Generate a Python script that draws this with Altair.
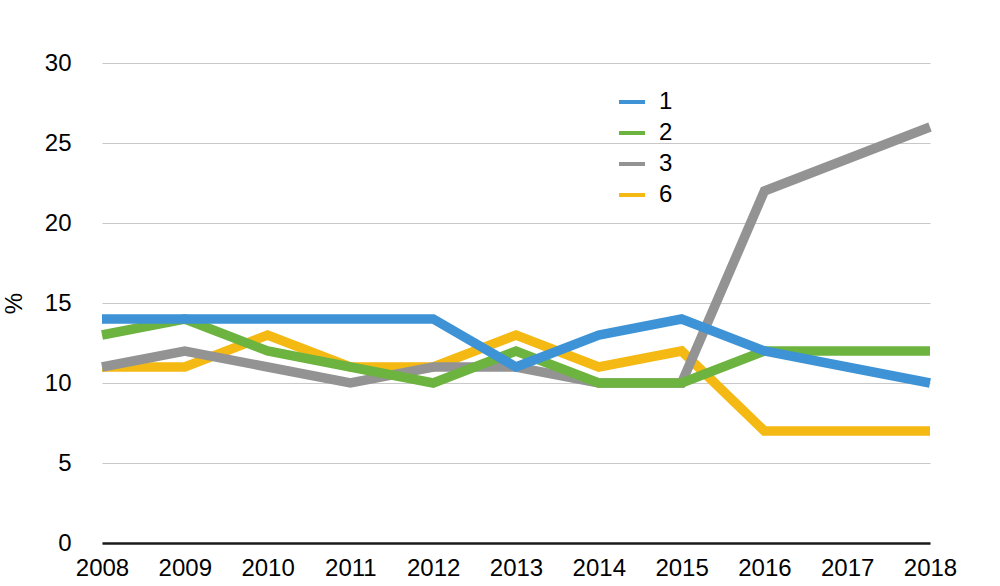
import altair as alt
import pandas as pd

years = list(range(2008, 2019))
s1 = [14, 14, 14, 14, 14, 11, 13, 14, 12, 11, 10]
s2 = [13, 14, 12, 11, 10, 12, 10, 10, 12, 12, 12]
s3 = [11, 12, 11, 10, 11, 11, 10, 10, 22, 24, 26]
s6 = [11, 11, 13, 11, 11, 13, 11, 12, 7, 7, 7]

series_names = ["1", "2", "3", "6"]
series_vals = [s1, s2, s3, s6]
colors = ["#3D93D6", "#6DB33F", "#939393", "#F5B914"]

rows = []
for name, vals in zip(series_names, series_vals):
    for y, v in zip(years, vals):
        rows.append({"year": y, "value": v, "series": name})
df = pd.DataFrame(rows)

FONT = "Liberation Sans"

color = alt.Color(
    "series:N",
    scale=alt.Scale(domain=series_names, range=colors),
    legend=alt.Legend(
        title=None,
        orient="none",
        legendX=515,
        legendY=24,
        symbolType="stroke",
        symbolSize=676,
        symbolStrokeWidth=4,
        labelFontSize=24,
        labelFont=FONT,
        labelColor="#000000",
        labelOffset=12,
        rowPadding=4,
        padding=0,
    ),
)

x = alt.X(
    "year:Q",
    scale=alt.Scale(domain=[2008, 2018], nice=False, zero=False),
    axis=alt.Axis(
        values=years,
        format="d",
        title=None,
        grid=False,
        ticks=False,
        domain=True,
        domainColor="#1a1a1a",
        domainWidth=2.5,
        labelFontSize=24,
        labelFont=FONT,
        labelColor="#000000",
        labelPadding=13,
        labelFlush=False,
    ),
)
y = alt.Y(
    "value:Q",
    scale=alt.Scale(domain=[0, 30], nice=False),
    axis=alt.Axis(
        values=[0, 5, 10, 15, 20, 25, 30],
        title="%",
        titleFontSize=24,
        titleFont=FONT,
        titleFontWeight="normal",
        titleColor="#000000",
        titleX=-88,
        titleY=240,
        titleAlign="center",
        titleBaseline="middle",
        titleAngle=270,
        grid=True,
        gridColor="#c8c8c8",
        gridWidth=1,
        ticks=False,
        domain=False,
        labelFontSize=24,
        labelFont=FONT,
        labelColor="#000000",
        labelPadding=31,
    ),
)

layers = []
for name in ["6", "3", "2", "1"]:
    layers.append(
        alt.Chart(df[df["series"] == name])
        .mark_line(strokeWidth=9.5, strokeJoin="miter", strokeCap="butt")
        .encode(x=x, y=y, color=color, detail="series:N")
    )

chart = (
    alt.layer(*layers)
    .properties(
        width=828,
        height=480,
        autosize=alt.AutoSizeParams(type="none"),
        padding={"left": 102, "top": 63, "right": 70, "bottom": 43},
        background="#ffffff",
    )
    .configure_view(stroke=None)
)

chart.save("out.html", embed_options={"renderer": "svg", "actions": False})
